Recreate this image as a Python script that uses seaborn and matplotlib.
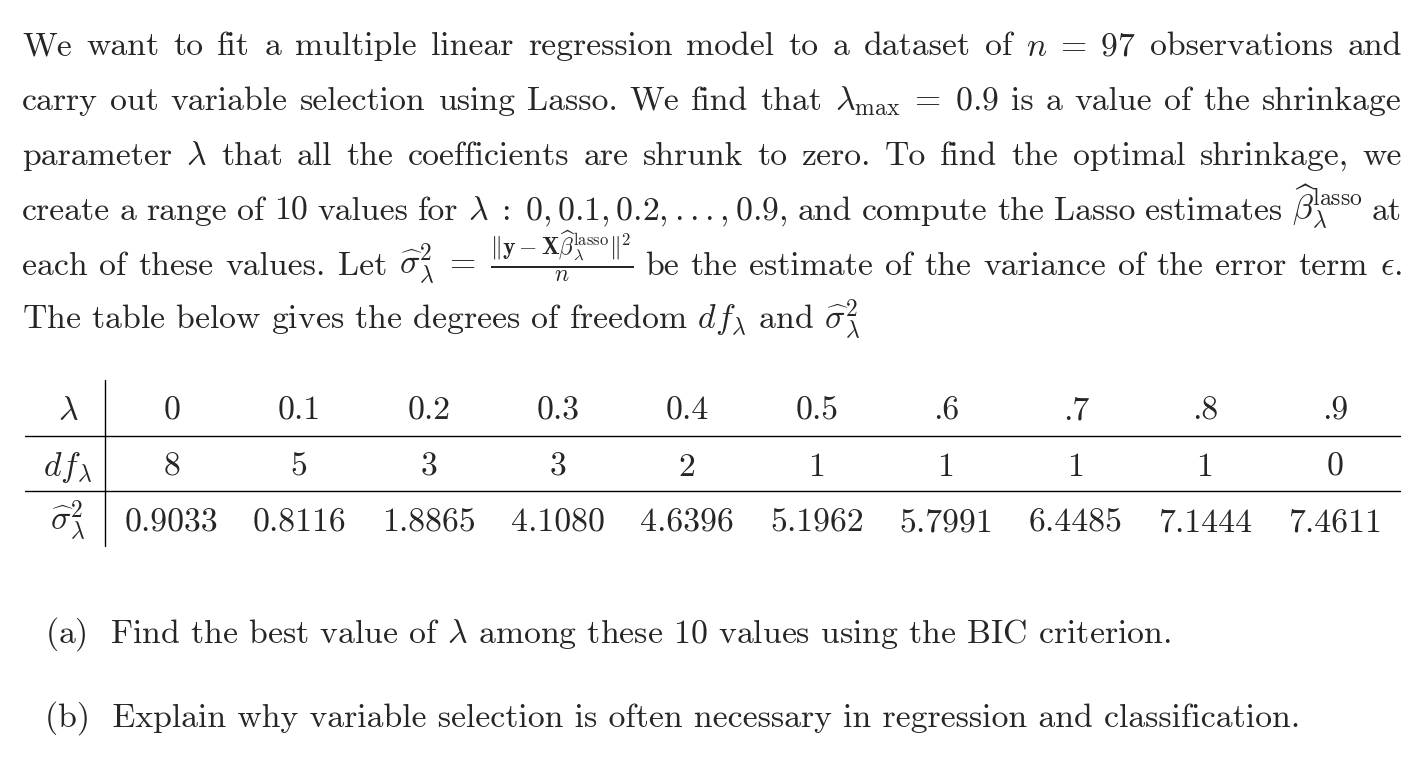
import matplotlib
matplotlib.use("Agg")
import matplotlib.pyplot as plt
import seaborn as sns

sns.set_theme(style="white")
plt.rcParams['font.family'] = ['cmr10', 'DejaVu Serif']
plt.rcParams['mathtext.fontset'] = 'cm'
plt.rcParams['axes.unicode_minus'] = False

paragraph = [
    r"We want to fit a multiple linear regression model to a dataset of $n\;=\;97$ observations and",
    r"carry out variable selection using Lasso.  We find that $\lambda_{\max}\;=\;0.9$ is a value of the shrinkage",
    r"parameter $\lambda$ that all the coefficients are shrunk to zero.  To find the optimal shrinkage, we",
    r"create a range of 10 values for $\lambda\;:\;0,0.1,0.2,...,0.9$, and compute the Lasso estimates $\widehat{\beta}_\lambda^{\mathrm{lasso}}$ at",
    r"each of these values. Let $\widehat{\sigma}^2_\lambda\;=\;\frac{\Vert\mathbf{y}-\mathbf{X}\widehat{\beta}_\lambda^{\mathrm{lasso}}\Vert^2}{n}$ be the estimate of the variance of the error term $\epsilon$.",
    r"The table below gives the degrees of freedom $df_\lambda$ and $\widehat{\sigma}^2_\lambda$",
]
row_labels = [r"$\lambda$", r"$df_\lambda$", r"$\widehat{\sigma}^2_\lambda$"]
lambdas = ["0", "0.1", "0.2", "0.3", "0.4", "0.5", ".6", ".7", ".8", ".9"]
dfs = ["8", "5", "3", "3", "2", "1", "1", "1", "1", "0"]
sigma2 = ["0.9033", "0.8116", "1.8865", "4.1080", "4.6396", "5.1962", "5.7991", "6.4485", "7.1444", "7.4611"]
questions = [
    r"(a)  Find the best value of $\lambda$ among these 10 values using the BIC criterion.",
    r"(b)  Explain why variable selection is often necessary in regression and classification.",
]

fig = plt.figure(figsize=(14.22, 7.64), dpi=100)
ax = fig.add_axes([0, 0, 1, 1])
ax.set_xlim(0, 1422)
ax.set_ylim(764, 0)
ax.axis("off")
fs = 24.3
renderer = fig.canvas.get_renderer()

left, right = 22, 1402
baselines = [55, 110, 165, 220, 275, 330]
for i, (line, yb) in enumerate(zip(paragraph, baselines)):
    words = line.split()
    if i == len(paragraph) - 1:
        ax.text(left, yb, line, fontsize=fs, va="baseline", ha="left")
        continue
    texts = [ax.text(0, yb, w, fontsize=fs, va="baseline", ha="left") for w in words]
    widths = [t.get_window_extent(renderer).width for t in texts]
    gap = (right - left - sum(widths)) / (len(words) - 1)
    x = left
    for t, w in zip(texts, widths):
        t.set_x(x)
        x += w + gap

# table
col_x = [172, 299, 429, 558, 687, 817, 946, 1076, 1205, 1335]
row_y = [420, 476, 531]
for lab, y in zip(row_labels, row_y):
    ax.text(68, y, lab, fontsize=fs, ha="center", va="baseline")
for row, y in zip([lambdas, dfs, sigma2], row_y):
    for v, x in zip(row, col_x):
        ax.text(x, y, v, fontsize=fs, ha="center", va="baseline")
ax.plot([105, 105], [380, 546], color="black", lw=1)
ax.plot([25, 1400], [436, 436], color="black", lw=1)
ax.plot([25, 1400], [491, 491], color="black", lw=1)

for q, y in zip(questions, [643, 727]):
    ax.text(45, y, q, fontsize=fs, ha="left", va="baseline")

fig.savefig("out.png", dpi=100, facecolor="white")
